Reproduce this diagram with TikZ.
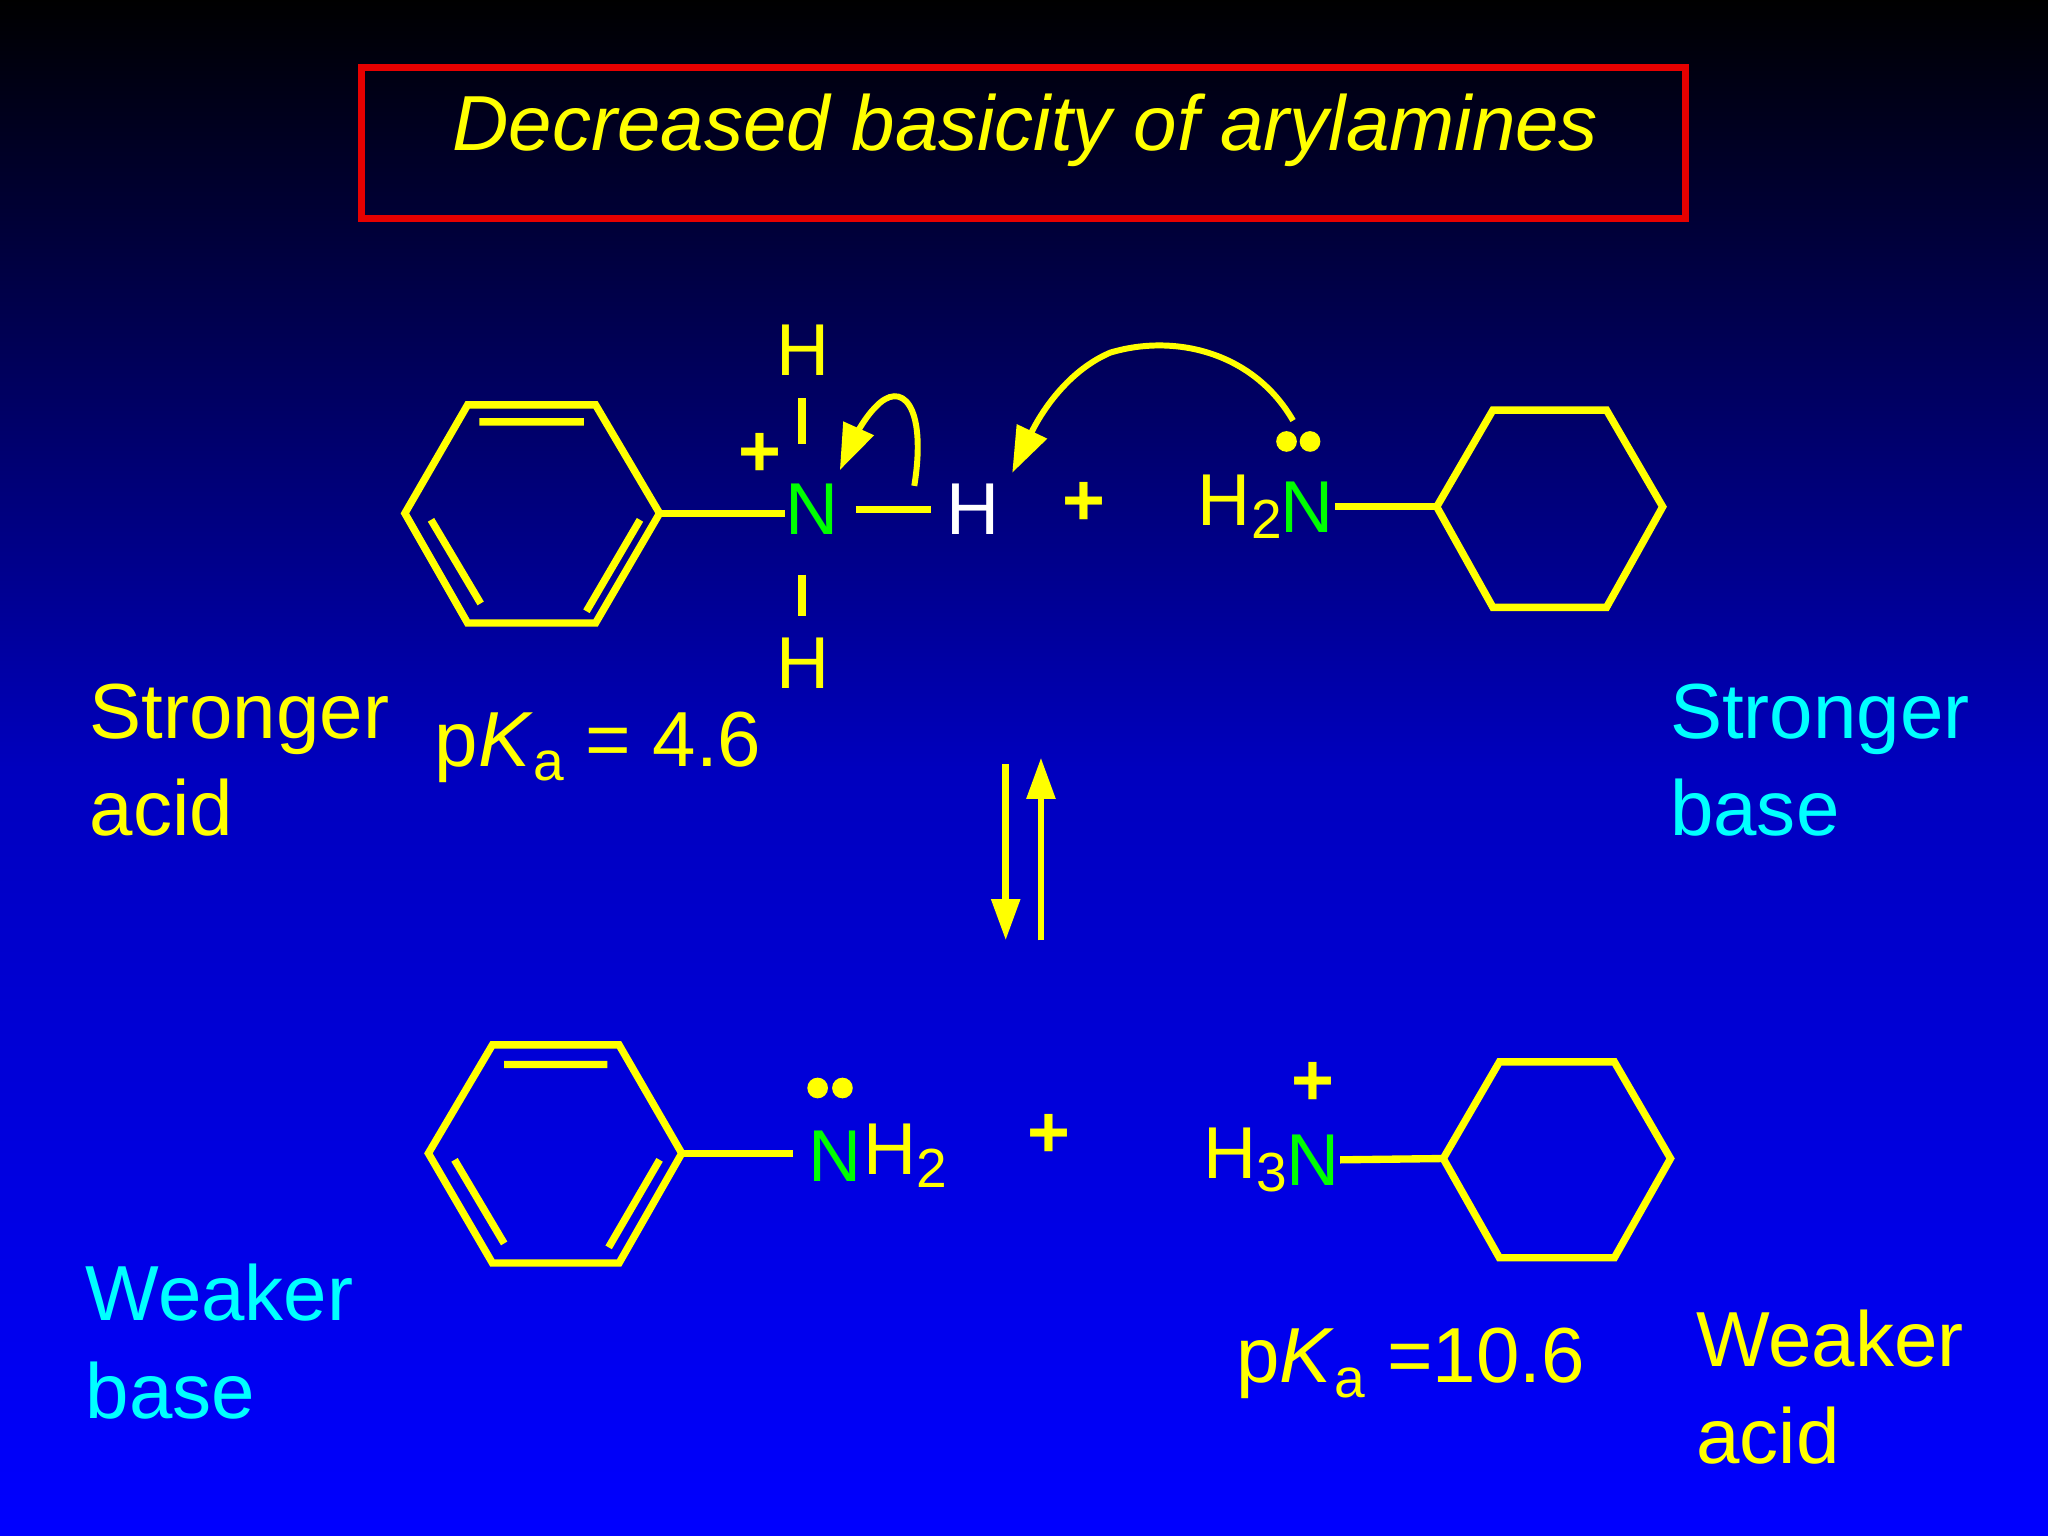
\documentclass[tikz,border=0pt]{standalone}
\usepackage{fontspec}
\setmainfont{Liberation Sans}
\usetikzlibrary{arrows.meta}
\definecolor{yel}{RGB}{255,255,0}
\definecolor{grn}{RGB}{0,255,0}
\definecolor{cya}{RGB}{0,255,255}
\newcommand{\mysub}[1]{\raisebox{-0.35ex}{\fontsize{12}{12}\selectfont #1}}
\tikzset{
 bond/.style={draw=yel,line width=1.6pt},
 lab/.style={font=\fontsize{16}{19}\selectfont,inner sep=0pt},
 big/.style={lab,text=yel,align=left,anchor=west,font=\fontsize{17}{21.3}\selectfont},
 dot/.style={circle,fill=yel,minimum size=4.5pt,inner sep=0pt},
 curv/.style={draw=yel,line width=1.3pt,-{Triangle[width=7pt,length=10pt]}},
}
\begin{document}
\begin{tikzpicture}[x=0.01cm,y=-0.01cm]
\shade[top color=black,bottom color={rgb,255:red,0;green,0;blue,255},middle color={rgb,255:red,0;green,0;blue,190}] (0,0) rectangle (1568,1176);
\useasboundingbox (0,0) rectangle (1568,1176);
% title
\node[draw={rgb,255:red,230;green,0;blue,0},line width=1.5pt,minimum width=10.13cm,minimum height=1.15cm] (tbox) at (783.5,109.5) {};
\node[lab,text=yel,font=\fontsize{17}{20}\selectfont\itshape] (title) at (785,100) {Decreased basicity of arylamines};
% top benzene
\draw[bond] (358,310)--(456,310)--(505,393)--(456,477)--(358,477)--(310,393)--cycle;
\draw[bond] (367,323)--(447,323) (330,398)--(368,462) (490,398)--(449,468);
\node[lab,text=grn] (N1) at (622,390) {N};
\draw[bond] (505,393)--(N1.west |- 0,393);
\node[lab,text=yel] (H1) at (615,268) {H};
\node[lab,text=yel] (H2) at (615,508) {H};
\draw[bond] (614,305)--(614,340) (614,440)--(614,472);
\node[lab,text=yel,font=\fontsize{16}{19}\selectfont\bfseries] (p1) at (582,348) {+};
\node[lab,text=white] (H3) at (745,390) {H};
\draw[bond] (655,390)--(713,390);
\node[lab,text=yel,font=\fontsize{16}{19}\selectfont\bfseries] (p2) at (830,386) {+};
\node[lab,text=yel,anchor=east] (H2N) at (982,388) {H\mysub{2}};
\node[lab,text=grn,anchor=west] (N2) at (980,388) {N};
\node[dot] (d1) at (985,338) {}; \node[dot] (d2) at (1003,338) {};
\draw[bond] (N2.east)--(1100,388);
\draw[bond] (1100,388)--(1143,314)--(1230,314)--(1273,388)--(1230,465)--(1143,465)--cycle;
% curved arrows
\draw[curv] (700,372) .. controls (710,310) and (690,290) .. (670,312) .. controls (660,322) and (652,340) .. (643,360);
\draw[curv] (990,322) .. controls (960,270) and (900,255) .. (850,270) .. controls (815,285) and (795,320) .. (775,362);
% labels top
\node[big] (sa) at (68,582) {Stronger\\acid};
\node[lab,text=yel,font=\fontsize{17}{20}\selectfont] (pk1) at (458,572) {p\textit{K}\mysub{a} = 4.6};
\node[big,text=cya] (sb) at (1278,582) {Stronger\\base};
% equilibrium
\coordinate (e1) at (770,585); \coordinate (e2) at (770,720);
\coordinate (e3) at (797,720); \coordinate (e4) at (797,580);
\draw[draw=yel,line width=1.5pt,-{Triangle[width=6pt,length=9pt]}] (e1)--(e2);
\draw[draw=yel,line width=1.5pt,-{Triangle[width=6pt,length=9pt]}] (e3)--(e4);
% bottom benzene
\draw[bond] (377,800)--(474,800)--(522,883)--(474,967)--(377,967)--(328,883)--cycle;
\draw[bond] (386,815)--(465,815) (348,888)--(386,952) (505,888)--(466,955);
\node[lab,text=grn,anchor=west] (N3) at (618,885) {N};
\node[lab,text=yel,anchor=west] (NH2) at (N3.east) {H\mysub{2}};
\draw[bond] (522,883)--(607,883);
\node[dot] (d3) at (626,833) {}; \node[dot] (d4) at (645,833) {};
\node[lab,text=yel,font=\fontsize{16}{19}\selectfont\bfseries] (p3) at (803,870) {+};
\node[lab,text=yel,anchor=east] (H3N) at (986,888) {H\mysub{3}};
\node[lab,text=grn,anchor=west] (N4) at (984,888) {N};
\node[lab,text=yel,font=\fontsize{16}{19}\selectfont\bfseries] (p4) at (1005,830) {+};
\draw[bond] (N4.east)--(1105,887);
\draw[bond] (1105,887)--(1148,813)--(1236,813)--(1279,887)--(1236,963)--(1148,963)--cycle;
\node[big,text=cya] (wb) at (65,1027) {Weaker\\base};
\node[lab,text=yel,font=\fontsize{17}{20}\selectfont] (pk2) at (1080,1044) {p\textit{K}\mysub{a} =10.6};
\node[big] (wa) at (1298,1062) {Weaker\\acid};
\end{tikzpicture}
\end{document}
